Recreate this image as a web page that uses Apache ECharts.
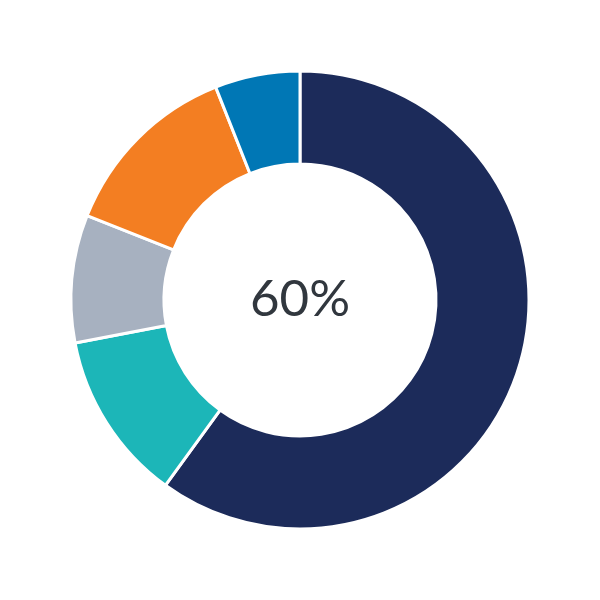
<!DOCTYPE html>
<html><head><meta charset="utf-8">
<script src="https://cdn.jsdelivr.net/npm/echarts@6/dist/echarts.min.js"></script>
<style>html,body{margin:0;padding:0;background:#fff}#c{width:600px;height:600px}</style>
</head><body><div id="c"></div>
<script>
const categories = ['A', 'B', 'C', 'D', 'E'];
const values = [60, 12, 9, 13, 6];
const colors = ['#1c2b5a', '#1cb6b8', '#a7b1c0', '#f37e22', '#0077b5'];
const centerLabel = '60%';

const chart = echarts.init(document.getElementById('c'));
chart.setOption({
  animation: false,
  title: {
    text: centerLabel, left: 'center', top: 'middle',
    textStyle: { fontFamily: 'Lato', fontWeight: 'normal', fontSize: 51, color: '#31373e' }
  },
  series: [{
    type: 'pie',
    center: [300, 300],
    radius: [136, 229],
    startAngle: 90,
    clockwise: true,
    label: { show: false },
    labelLine: { show: false },
    emphasis: { disabled: true },
    itemStyle: { borderColor: '#fff', borderWidth: 3 },
    data: categories.map((c, i) => ({ name: c, value: values[i], itemStyle: { color: colors[i] } }))
  }]
});
</script></body></html>
